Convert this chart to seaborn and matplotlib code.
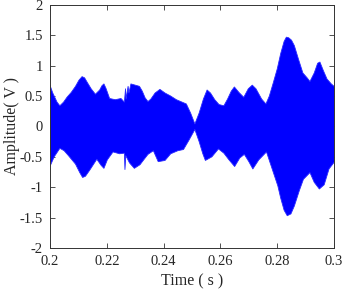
import matplotlib
matplotlib.use('Agg')
import matplotlib.pyplot as plt
import seaborn as sns
import numpy as np

# upper envelope of the signal (time in s, amplitude in V)
t_upper = [0.2000, 0.2010, 0.2025, 0.2035, 0.2048, 0.2060, 0.2075, 0.2090, 0.2102,
           0.2113, 0.2122, 0.2132, 0.2145, 0.2160, 0.2175, 0.2183, 0.2190, 0.2197,
           0.2210, 0.2230, 0.2250, 0.2262, 0.2266, 0.2268, 0.2275, 0.2278, 0.2285,
           0.2300, 0.2315, 0.2325, 0.2335, 0.2345, 0.2355, 0.2370, 0.2387, 0.2405,
           0.2425, 0.2445, 0.2465, 0.2480, 0.2495, 0.2510, 0.2525, 0.2540, 0.2553,
           0.2565, 0.2580, 0.2595, 0.2612, 0.2625, 0.2638, 0.2649, 0.2665, 0.2682,
           0.2698, 0.2712, 0.2725, 0.2745, 0.2760, 0.2772, 0.2786, 0.2800, 0.2812,
           0.2824, 0.2832, 0.2840, 0.2850, 0.2860, 0.2875, 0.2890, 0.2905, 0.2915,
           0.2930, 0.2942, 0.2950, 0.2962, 0.2975, 0.2990, 0.3000]
v_upper = [0.68, 0.55, 0.40, 0.34, 0.40, 0.48, 0.56, 0.66, 0.76,
           0.82, 0.80, 0.72, 0.62, 0.53, 0.60, 0.67, 0.70, 0.63,
           0.46, 0.44, 0.46, 0.40, 0.62, 0.45, 0.66, 0.55, 0.70,
           0.68, 0.66, 0.58, 0.47, 0.41, 0.45, 0.55, 0.61, 0.55,
           0.50, 0.44, 0.40, 0.37, 0.22, 0.04, 0.22, 0.45, 0.60,
           0.55, 0.44, 0.36, 0.34, 0.45, 0.58, 0.65, 0.56, 0.48,
           0.62, 0.68, 0.62, 0.45, 0.37, 0.50, 0.72, 0.95, 1.20,
           1.40, 1.47, 1.46, 1.42, 1.33, 1.10, 0.88, 0.80, 0.74,
           0.88, 1.04, 1.06, 0.92, 0.78, 0.70, 0.66]

# lower envelope
t_lower = [0.2000, 0.2015, 0.2035, 0.2050, 0.2065, 0.2090, 0.2105, 0.2115, 0.2125,
           0.2140, 0.2165, 0.2180, 0.2190, 0.2202, 0.2222, 0.2245, 0.2262, 0.2264,
           0.2267, 0.2280, 0.2297, 0.2317, 0.2330, 0.2345, 0.2364, 0.2381, 0.2405,
           0.2425, 0.2450, 0.2470, 0.2490, 0.2510, 0.2525, 0.2538, 0.2547, 0.2570,
           0.2593, 0.2612, 0.2630, 0.2650, 0.2668, 0.2684, 0.2700, 0.2714, 0.2735,
           0.2762, 0.2782, 0.2802, 0.2812, 0.2824, 0.2835, 0.2848, 0.2860, 0.2878,
           0.2892, 0.2915, 0.2930, 0.2948, 0.2965, 0.2982, 0.3000]
v_lower = [-0.66, -0.50, -0.36, -0.40, -0.48, -0.62, -0.76, -0.84, -0.82,
           -0.72, -0.54, -0.64, -0.69, -0.55, -0.42, -0.45, -0.44, -0.71,
           -0.48, -0.60, -0.69, -0.63, -0.55, -0.46, -0.40, -0.58, -0.56,
           -0.45, -0.40, -0.38, -0.22, -0.05, -0.25, -0.45, -0.56, -0.50,
           -0.37, -0.44, -0.55, -0.66, -0.52, -0.46, -0.58, -0.70, -0.55,
           -0.42, -0.70, -0.98, -1.18, -1.38, -1.47, -1.44, -1.31, -1.05,
           -0.87, -0.76, -0.92, -1.03, -0.96, -0.70, -0.59]

x_ticks = [0.2, 0.22, 0.24, 0.26, 0.28, 0.3]
x_ticklabels = ['0.2', '0.22', '0.24', '0.26', '0.28', '0.3']
y_ticks = [-2, -1.5, -1, -0.5, 0, 0.5, 1, 1.5, 2]
y_ticklabels = ['-2', '-1.5', '-1', '-0.5', '0', '0.5', '1', '1.5', '2']

sns.set_style('ticks')
plt.rcParams['font.family'] = ['Liberation Serif', 'DejaVu Serif']
plt.rcParams['axes.unicode_minus'] = False

fig = plt.figure(figsize=(3.42, 2.92), dpi=100)
ax = fig.add_axes([0.146, 0.151, 0.831, 0.832])

# signal band: upper envelope forward, lower envelope back
ax.fill(np.r_[t_upper, t_lower[::-1]], np.r_[v_upper, v_lower[::-1]],
        color='#0000ff', lw=0)
sns.lineplot(x=t_upper, y=v_upper, ax=ax, color='#2a2aff', lw=0.6)
sns.lineplot(x=t_lower, y=v_lower, ax=ax, color='#2a2aff', lw=0.6)

ax.set_xlim(0.2, 0.3)
ax.set_ylim(-2, 2)
ax.set_xticks(x_ticks)
ax.set_xticklabels(x_ticklabels)
ax.set_yticks(y_ticks)
ax.set_yticklabels(y_ticklabels)
ax.tick_params(direction='in', top=True, right=True, length=3.5, width=0.6,
               labelsize=10.5, color='#333333', pad=5)
for s in ax.spines.values():
    s.set_linewidth(0.7)
    s.set_color('#333333')

ax.set_xlabel('Time ( s )', fontsize=11.5, labelpad=4)
ax.set_ylabel('Amplitude( V )', fontsize=11.5, labelpad=0)

fig.savefig('out.png', dpi=100)
